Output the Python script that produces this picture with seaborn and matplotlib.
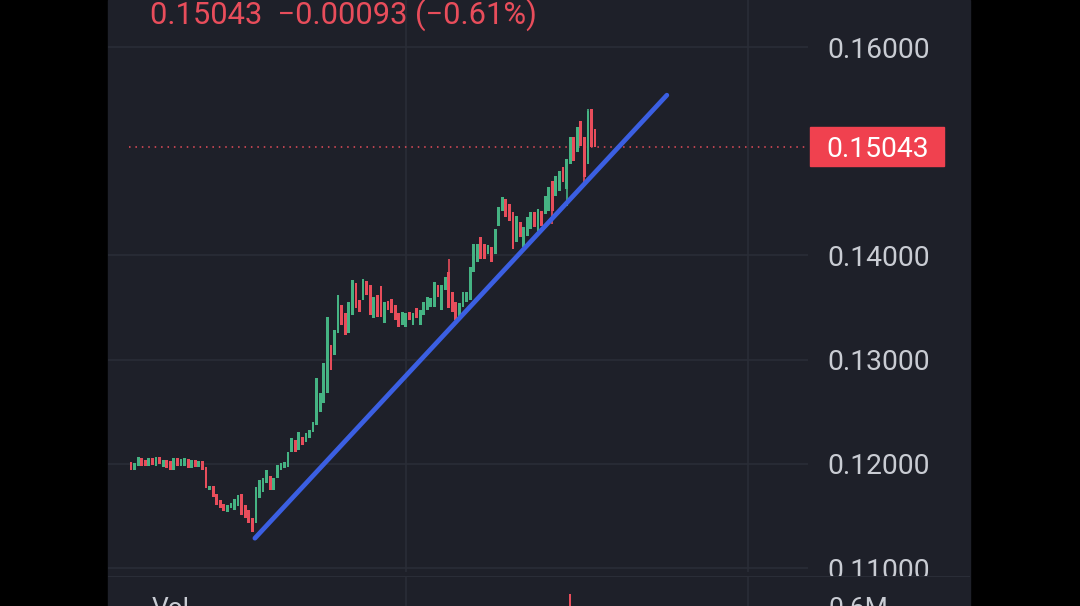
import numpy as np
import pandas as pd
import seaborn as sns
import matplotlib.pyplot as plt
from matplotlib.patches import Rectangle
from matplotlib.transforms import blended_transform_factory

# candle data
opens = [0.12019, 0.11942, 0.11981, 0.12058, 0.12038, 0.11981, 0.12058, 0.11981, 0.12067, 0.11971,
         0.12038, 0.12029, 0.11942, 0.12058, 0.11981, 0.11981, 0.12048, 0.11962, 0.12038, 0.11971,
         0.12029, 0.11971, 0.11750, 0.11788, 0.11712, 0.11654, 0.11615, 0.11538, 0.11577, 0.11558,
         0.11596, 0.11712, 0.11606, 0.11558, 0.11481, 0.11433, 0.11673, 0.11731, 0.11817, 0.11885,
         0.11750, 0.11865, 0.11942, 0.11962, 0.11971, 0.12115, 0.12231, 0.12135, 0.12260, 0.12212,
         0.12250, 0.12308, 0.12375, 0.12500, 0.12587, 0.12683, 0.13144, 0.13048, 0.13260, 0.13529,
         0.13452, 0.13260, 0.13433, 0.13740, 0.13577, 0.13577, 0.13760, 0.13721, 0.13404, 0.13625,
         0.13712, 0.13356, 0.13567, 0.13587, 0.13529, 0.13452, 0.13337, 0.13317, 0.13462, 0.13337,
         0.13500, 0.13337, 0.13433, 0.13481, 0.13510, 0.13510, 0.13721, 0.13481, 0.13673, 0.13846,
         0.13654, 0.13558, 0.13404, 0.13510, 0.13558, 0.13577, 0.13846, 0.13942, 0.14173, 0.14106,
         0.14010, 0.14077, 0.14010, 0.14279, 0.14423, 0.14538, 0.14490, 0.14413, 0.14125, 0.14317,
         0.14077, 0.14183, 0.14250, 0.14413, 0.14231, 0.14423, 0.14394, 0.14423, 0.14712, 0.14567,
         0.14615, 0.14846, 0.14635, 0.14875, 0.15135, 0.14990, 0.15288, 0.15135, 0.14875, 0.15404,
         0.15212]
closes = [0.11942, 0.12010, 0.12067, 0.11981, 0.11981, 0.12058, 0.11990, 0.12067, 0.12000, 0.12038,
          0.11962, 0.11942, 0.12058, 0.11981, 0.12048, 0.12058, 0.11962, 0.12038, 0.11971, 0.12029,
          0.11942, 0.11769, 0.11788, 0.11683, 0.11606, 0.11577, 0.11548, 0.11606, 0.11625, 0.11663,
          0.11702, 0.11510, 0.11481, 0.11433, 0.11346, 0.11779, 0.11846, 0.11865, 0.11942, 0.11750,
          0.11865, 0.11990, 0.12010, 0.12019, 0.12115, 0.12250, 0.12115, 0.12308, 0.12183, 0.12298,
          0.12327, 0.12404, 0.12827, 0.12683, 0.12971, 0.13413, 0.12904, 0.13288, 0.13625, 0.13337,
          0.13240, 0.13558, 0.13769, 0.13500, 0.13462, 0.13779, 0.13625, 0.13433, 0.13606, 0.13413,
          0.13413, 0.13558, 0.13481, 0.13452, 0.13385, 0.13317, 0.13462, 0.13452, 0.13385, 0.13452,
          0.13404, 0.13481, 0.13558, 0.13606, 0.13596, 0.13750, 0.13606, 0.13721, 0.13798, 0.13500,
          0.13462, 0.13385, 0.13548, 0.13654, 0.13654, 0.13885, 0.14106, 0.14106, 0.13962, 0.13962,
          0.14096, 0.13933, 0.14250, 0.14462, 0.14558, 0.14365, 0.14327, 0.14058, 0.14375, 0.14173,
          0.14269, 0.14365, 0.14413, 0.14269, 0.14442, 0.14279, 0.14567, 0.14654, 0.14423, 0.14760,
          0.14808, 0.14702, 0.14923, 0.15135, 0.14904, 0.15231, 0.15048, 0.14750, 0.15385, 0.15038,
          0.15043]

# candles with visible wicks
wick_idx = [89, 118, 122, 127, 128]
wick_high = [0.13962, 0.14712, 0.14923, 0.15135, 0.15404]
wick_low = [0.13500, 0.14298, 0.14471, 0.14663, 0.14875]

# drawn trend line (candle index, price)
trend_x = [34.7, 150.1]
trend_y = [0.11288, 0.15538]

price_ticks = [0.11, 0.12, 0.13, 0.14, 0.16]
time_grid = [77.0, 172.8]
last_price = 0.15043
header = "0.15043  \u22120.00093 (\u22120.61%)"

vol_idx = [123]
vol_vals = [0.82]

df = pd.DataFrame({"open": opens, "close": closes})
df["i"] = np.arange(len(df))
df["up"] = df["close"] >= df["open"]

BG = "#1e2029"
GRID = "#2a2d37"
GREEN = "#45b383"
RED = "#e84d5b"
LABEL = "#c9ccd3"

sns.set_theme(style="dark", rc={"axes.facecolor": BG, "figure.facecolor": "black"})
plt.rcParams["font.family"] = ["Roboto", "DejaVu Sans"]

W, H = 1080, 606
fig = plt.figure(figsize=(W / 100, H / 100), dpi=100)
fig.patches.append(Rectangle((108 / W, 0), (970 - 108) / W, 1, transform=fig.transFigure,
                             color=BG, zorder=-10))

# price pane
ax = fig.add_axes([108 / W, 1 - 572 / H, 700 / W, 572 / H])
ax.set_facecolor(BG)
px = 3.57  # pixels per candle
ax.set_xlim(-(131 - 108) / px, (808 - 131) / px)
ax.set_ylim(0.12 - 108 / 10425, 0.12 + 464 / 10425)
for s in ax.spines.values():
    s.set_visible(False)

for g in price_ticks:
    ax.axhline(g, color=GRID, lw=1.2, zorder=1)
for t in time_grid:
    ax.axvline(t, color=GRID, lw=1.2, zorder=1)

# candles
for up, sub in df.groupby("up"):
    c = GREEN if up else RED
    lo = sub[["open", "close"]].min(axis=1)
    hi = sub[["open", "close"]].max(axis=1)
    ax.bar(sub["i"], hi - lo, bottom=lo, width=0.78, color=c, linewidth=0, zorder=3)
for k, h, l in zip(wick_idx, wick_high, wick_low):
    c = GREEN if df.loc[k, "up"] else RED
    ax.vlines(k, l, h, color=c, lw=1.2, zorder=3)

sns.lineplot(x=trend_x, y=trend_y, ax=ax, color="#3b5fe2", lw=3.4, zorder=4,
             solid_capstyle="round")

ax.axhline(last_price, xmin=0.03, xmax=1, color=RED, lw=1.1, ls=(0, (1, 3.2)), zorder=2)

ax.yaxis.tick_right()
ax.set_yticks(price_ticks)
ax.set_yticklabels([f"{p:.5f}" for p in price_ticks])
ax.tick_params(axis="y", length=0, pad=14, labelsize=20.3, labelcolor=LABEL)
ax.set_xticks([])
ax.grid(False)

# current price label
tr = blended_transform_factory(ax.transAxes, ax.transData)
ax.add_patch(Rectangle(((810 - 108) / 700, last_price - 19.5 / 10425), 134 / 700, 39 / 10425,
                       transform=tr, color="#f0414f", clip_on=False, zorder=5))
ax.text((878 - 108) / 700, last_price, f"{last_price:.5f}", transform=tr, ha="center",
        va="center_baseline", color="white", fontsize=20.3, zorder=6, clip_on=False)

# volume pane (mostly cut off at the bottom)
vax = fig.add_axes([108 / W, 1 - 676 / H, 862 / W, 100 / H], zorder=2)
vax.set_facecolor(BG)
vax.set_xlim(-(131 - 108) / px, (970 - 131) / px)
vax.set_ylim(0, 1)
for s in vax.spines.values():
    s.set_visible(False)
vax.axhline(1, color=GRID, lw=1.5)
for t in time_grid:
    vax.axvline(t, color=GRID, lw=1.2, zorder=1)
vax.bar(vol_idx, vol_vals, width=0.5, color=RED, linewidth=0, zorder=3)
vax.set_xticks([])
vax.set_yticks([])
vax.grid(False)

fig.text(150 / W, 1 - 15 / H, header, color=RED, fontsize=22.2, va="center", ha="left")
fig.text(152 / W, 1 - 597 / H, "Vol", color=LABEL, fontsize=19, va="top", ha="left")
fig.text(828 / W, 1 - 597 / H, "0.6M", color=LABEL, fontsize=19, va="top", ha="left")

fig.savefig("out.png", dpi=100, facecolor="black")
